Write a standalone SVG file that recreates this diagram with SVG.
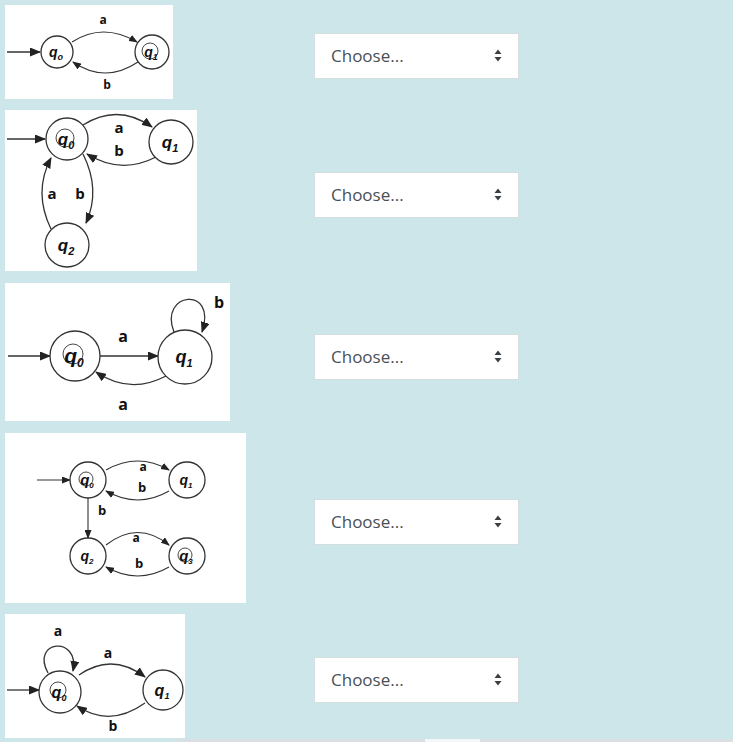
<svg xmlns="http://www.w3.org/2000/svg" width="733" height="742" viewBox="0 0 733 742">
<style>
.panel{fill:#ffffff}
.st{fill:#ffffff;stroke:#333;stroke-width:1.3}
.ac{fill:none;stroke:#333;stroke-width:0.9}
.edm{fill:none;stroke:#333;stroke-width:1.3;marker-end:url(#ah)}
.eds{fill:none;stroke:#333;stroke-width:1.1;marker-end:url(#ahs)}
.lbl{font-family:"Open Sans","Liberation Sans",sans-serif;font-weight:bold;fill:#111;text-anchor:middle}
.q{font-family:"Liberation Sans","DejaVu Sans",sans-serif;font-weight:bold;font-style:italic;fill:#111;text-anchor:middle}
.sel{fill:#ffffff;stroke:#d4dde0;stroke-width:1}
.seltxt{font-family:"Open Sans","Lato",sans-serif;font-size:17px;fill:#4a4f55}
.ic{fill:#3a3f44}
</style>
<defs>
<marker id="ah" markerUnits="userSpaceOnUse" markerWidth="11" markerHeight="9" refX="10" refY="4.5" orient="auto"><path d="M0,0 L11,4.5 L0,9 z" fill="#222"/></marker>
<marker id="ahs" markerUnits="userSpaceOnUse" markerWidth="9" markerHeight="7" refX="8" refY="3.5" orient="auto"><path d="M0,0 L9,3.5 L0,7 z" fill="#222"/></marker>
</defs>
<rect width="733" height="742" fill="#cde6ea"/>
<rect x="173" y="739" width="560" height="3" fill="#d9dfe2"/>
<rect x="425" y="739" width="55" height="3" fill="#f4f6f7"/>

<!-- Panel 1 -->
<g id="panel1">
<rect class="panel" x="5" y="5" width="168" height="94"/>
<g id="p1-connectors">
<path class="edm" d="M7,52 L40,52"/>
<path class="eds" d="M72,42 Q103,22 137,42"/>
<path class="eds" d="M138,62 Q105,84 73,62"/>
<text class="lbl" x="103" y="24" font-size="12">a</text>
<text class="lbl" x="107" y="89" font-size="12">b</text>
</g>
<g id="p1-q0"><circle class="st" cx="57" cy="52" r="16"/><text class="q" x="56" y="57" font-size="14">q<tspan font-size="9" dy="3">o</tspan></text></g>
<g id="p1-q1"><circle class="st" cx="152" cy="52" r="17"/><circle class="ac" cx="150" cy="51" r="8"/><text class="q" x="151" y="57" font-size="14">q<tspan font-size="9" dy="3">1</tspan></text></g>
</g>

<!-- Panel 2 -->
<g id="panel2">
<rect class="panel" x="5" y="110" width="192" height="161"/>
<g id="p2-connectors">
<path class="edm" d="M7,139 L45,139"/>
<path class="edm" d="M83,125 Q118,103 152,127"/>
<path class="edm" d="M156,157 Q121,175 87,154"/>
<path class="edm" d="M51,229 Q33,192 51,158"/>
<path class="edm" d="M83,154 Q101,190 86,223"/>
<text class="lbl" x="119" y="133" font-size="15">a</text>
<text class="lbl" x="119" y="156" font-size="15">b</text>
<text class="lbl" x="52" y="199" font-size="15">a</text>
<text class="lbl" x="80" y="199" font-size="15">b</text>
</g>
<g id="p2-q0"><circle class="st" cx="67" cy="139" r="21"/><circle class="ac" cx="65" cy="138" r="9"/><text class="q" x="66" y="145" font-size="17">q<tspan font-size="11" dy="4">0</tspan></text></g>
<g id="p2-q1"><circle class="st" cx="171" cy="142" r="22"/><text class="q" x="170" y="148" font-size="17">q<tspan font-size="11" dy="4">1</tspan></text></g>
<g id="p2-q2"><circle class="st" cx="67" cy="245" r="22"/><text class="q" x="66" y="251" font-size="17">q<tspan font-size="11" dy="4">2</tspan></text></g>
</g>

<!-- Panel 3 -->
<g id="panel3">
<rect class="panel" x="5" y="283" width="225" height="138"/>
<g id="p3-connectors">
<path class="edm" d="M8,356 L50,356"/>
<path class="edm" d="M100,356 L158,356"/>
<path class="edm" d="M166,376 Q130,395 96,372"/>
<path class="edm" d="M174,332 C158,292 218,285 202,332"/>
<text class="lbl" x="123" y="342" font-size="16">a</text>
<text class="lbl" x="123" y="410" font-size="16">a</text>
<text class="lbl" x="219" y="308" font-size="16">b</text>
</g>
<g id="p3-q0"><circle class="st" cx="75" cy="356" r="25"/><circle class="ac" cx="73" cy="354" r="10"/><text class="q" x="74" y="363" font-size="21">q<tspan font-size="12" dy="4">0</tspan></text></g>
<g id="p3-q1"><circle class="st" cx="185" cy="357" r="27"/><text class="q" x="184" y="363" font-size="18">q<tspan font-size="11" dy="4">1</tspan></text></g>
</g>

<!-- Panel 4 -->
<g id="panel4">
<rect class="panel" x="5" y="433" width="241" height="170"/>
<g id="p4-connectors">
<path class="eds" d="M37,480 L70,480"/>
<path class="eds" d="M106,470 Q138,452 169,470"/>
<path class="eds" d="M169,491 Q138,509 106,491"/>
<path class="eds" d="M88,498 L88,538"/>
<path class="eds" d="M106,545 Q138,520 169,545"/>
<path class="eds" d="M169,567 Q138,585 106,567"/>
<text class="lbl" x="143" y="471" font-size="12">a</text>
<text class="lbl" x="142" y="492" font-size="13">b</text>
<text class="lbl" x="102" y="515" font-size="13">b</text>
<text class="lbl" x="136" y="542" font-size="12">a</text>
<text class="lbl" x="139" y="568" font-size="13">b</text>
</g>
<g id="p4-q0"><circle class="st" cx="88" cy="480" r="18"/><circle class="ac" cx="86" cy="479" r="7"/><text class="q" x="87" y="485" font-size="15">q<tspan font-size="8" dy="3">0</tspan></text></g>
<g id="p4-q1"><circle class="st" cx="187" cy="480" r="18"/><text class="q" x="186" y="485" font-size="14">q<tspan font-size="8" dy="3">1</tspan></text></g>
<g id="p4-q2"><circle class="st" cx="88" cy="556" r="18"/><text class="q" x="87" y="561" font-size="14">q<tspan font-size="8" dy="3">2</tspan></text></g>
<g id="p4-q3"><circle class="st" cx="187" cy="556" r="18"/><circle class="ac" cx="185" cy="555" r="7"/><text class="q" x="186" y="561" font-size="15">q<tspan font-size="8" dy="3">3</tspan></text></g>
</g>

<!-- Panel 5 -->
<g id="panel5">
<rect class="panel" x="5" y="614" width="180" height="124"/>
<g id="p5-connectors">
<path class="edm" d="M7,690 L39,690"/>
<path class="edm" d="M48,673 C30,640 80,635 73,671"/>
<path class="edm" d="M79,675 Q112,652 145,677"/>
<path class="edm" d="M145,703 Q110,728 77,706"/>
<text class="lbl" x="58" y="636" font-size="14">a</text>
<text class="lbl" x="108" y="658" font-size="14">a</text>
<text class="lbl" x="113" y="731" font-size="14">b</text>
</g>
<g id="p5-q0"><circle class="st" cx="60" cy="692" r="21"/><circle class="ac" cx="58" cy="690" r="8"/><text class="q" x="59" y="698" font-size="16">q<tspan font-size="9" dy="3">0</tspan></text></g>
<g id="p5-q1"><circle class="st" cx="163" cy="690" r="20"/><text class="q" x="162" y="696" font-size="16">q<tspan font-size="9" dy="3">1</tspan></text></g>
</g>

<!-- Select boxes -->
<g id="select1"><rect class="sel" x="314.5" y="33.5" width="204" height="45"/><text class="seltxt" x="331" y="62">Choose...</text><path class="ic" d="M494.5,54 L501.5,54 L498,49.5 z M494.5,57 L501.5,57 L498,61.5 z"/></g>
<g id="select2" transform="translate(0,139)"><rect class="sel" x="314.5" y="33.5" width="204" height="45"/><text class="seltxt" x="331" y="62">Choose...</text><path class="ic" d="M494.5,54 L501.5,54 L498,49.5 z M494.5,57 L501.5,57 L498,61.5 z"/></g>
<g id="select3" transform="translate(0,301)"><rect class="sel" x="314.5" y="33.5" width="204" height="45"/><text class="seltxt" x="331" y="62">Choose...</text><path class="ic" d="M494.5,54 L501.5,54 L498,49.5 z M494.5,57 L501.5,57 L498,61.5 z"/></g>
<g id="select4" transform="translate(0,466)"><rect class="sel" x="314.5" y="33.5" width="204" height="45"/><text class="seltxt" x="331" y="62">Choose...</text><path class="ic" d="M494.5,54 L501.5,54 L498,49.5 z M494.5,57 L501.5,57 L498,61.5 z"/></g>
<g id="select5" transform="translate(0,624)"><rect class="sel" x="314.5" y="33.5" width="204" height="45"/><text class="seltxt" x="331" y="62">Choose...</text><path class="ic" d="M494.5,54 L501.5,54 L498,49.5 z M494.5,57 L501.5,57 L498,61.5 z"/></g>
</svg>
